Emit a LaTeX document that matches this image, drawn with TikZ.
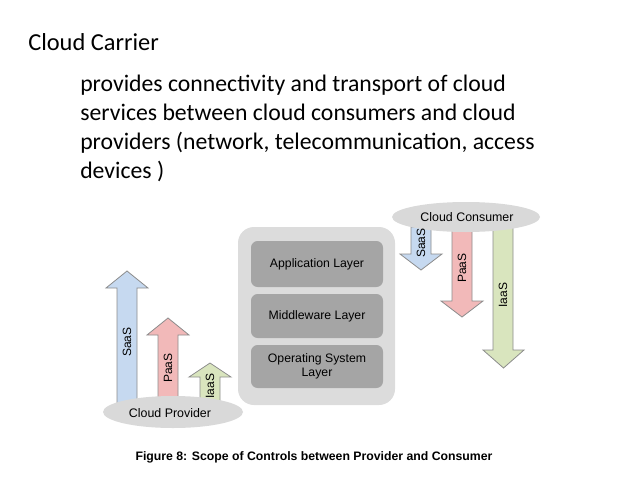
\documentclass[tikz,border=0pt]{standalone}
\usepackage{fontspec}
\setmainfont{Carlito}
\newfontfamily\arial{Liberation Sans}
\definecolor{ablue}{HTML}{C6D9F0}
\definecolor{ared}{HTML}{F2B9B9}
\definecolor{agreen}{HTML}{D9E5BE}
\definecolor{ellgray}{HTML}{D9D9D9}
\definecolor{boxgray}{HTML}{DCDCDC}
\definecolor{layergray}{HTML}{A5A5A5}
\tikzset{
  arr/.style={draw=black!45, line width=0.6pt},
  lbl/.style={font=\arial\fontsize{9}{10}\selectfont, rotate=90},
  ell/.style={fill=ellgray, draw=none},
  layer/.style={fill=layergray, draw=none, rounded corners=5pt, font=\arial\fontsize{9.2}{10.5}\selectfont, align=center}
}
\newcommand{\uparr}[8]{% x1 x2 hx1 hx2 bottom base tip color
  \path[arr, fill=#8] (#1,#5) -- (#1,#6) -- (#3,#6) -- ({(#3+#4)/2},#7) -- (#4,#6) -- (#2,#6) -- (#2,#5) -- cycle;}
\begin{document}
\begin{tikzpicture}[x=0.75pt,y=-0.75pt]
\useasboundingbox (0,0) rectangle (638,478);
\node[anchor=west, inner sep=0pt, font=\fontsize{18.3}{22}\selectfont] (title) at (28,42) {Cloud Carrier};
\node[anchor=north west, align=left, inner sep=0pt, font=\fontsize{17.8}{21.75}\selectfont] (desc) at (80,75)
 {provides connectivity and transport of cloud\\services between cloud consumers and cloud\\providers (network, telecommunication, access\\devices )};
% central box
\node[fill=boxgray, rounded corners=12pt, minimum width=157*0.75pt, minimum height=178*0.75pt] (stack) at (316.5,316) {};
\node[layer, minimum width=132*0.75pt, minimum height=46*0.75pt] (app) at (317,264) {Application Layer};
\node[layer, minimum width=132*0.75pt, minimum height=44*0.75pt] (mid) at (317,316) {Middleware Layer};
\node[layer, minimum width=132*0.75pt, minimum height=43*0.75pt] (os) at (317,366.5) {Operating System\\Layer};
% left arrows
\uparr{117}{137}{106}{148}{405}{288}{271}{ablue}
\uparr{158}{178}{147}{189}{405}{335}{318}{ared}
\uparr{200}{220}{189}{231}{405}{377}{363}{agreen}
\node[lbl] (ls) at (127,342) {SaaS};
\node[lbl] (lp) at (168,368) {PaaS};
\node[lbl] (li) at (210,386) {IaaS};
\fill[ell] (173,412) ellipse [x radius=70, y radius=16];
\node[font=\arial\fontsize{9.3}{10}\selectfont] (prov) at (170,413) {Cloud Provider};
% right arrows
\uparr{411}{431}{400}{442}{227}{254}{270}{ablue}
\uparr{452}{472}{441}{483}{227}{301}{317}{ared}
\uparr{493}{513}{483}{524}{227}{350}{368}{agreen}
\fill[ell] (466,217) ellipse [x radius=74, y radius=15];
\node[font=\arial\fontsize{9.3}{10}\selectfont] (cons) at (467,217) {Cloud Consumer};
\node[lbl] (rs) at (421,243) {SaaS};
\node[lbl] (rp) at (462,268) {PaaS};
\node[lbl] (ri) at (503,295) {IaaS};
\node[font=\arial\bfseries\fontsize{9.2}{10}\selectfont] (cap) at (314,457) {Figure 8: Scope of Controls between Provider and Consumer};
\end{tikzpicture}
\end{document}
